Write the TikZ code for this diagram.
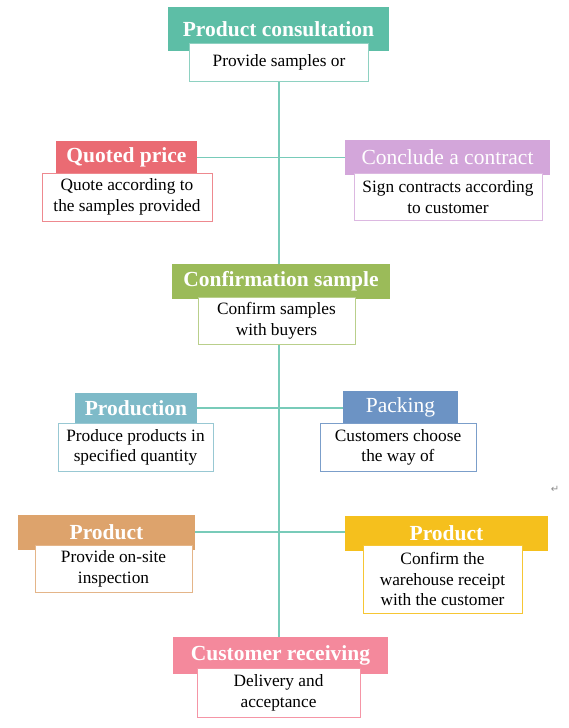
\documentclass[tikz,border=0pt]{standalone}
\usepackage{fontspec}
\setmainfont{Liberation Serif}
\newfontfamily\symfont{DejaVu Sans}
\usetikzlibrary{backgrounds}
\definecolor{cTeal}{HTML}{5DBEA6}
\definecolor{cQuote}{HTML}{EA6B73}
\definecolor{cLav}{HTML}{D3A6DA}
\definecolor{cGreen}{HTML}{9BBB59}
\definecolor{cProd}{HTML}{7EBAC8}
\definecolor{cPack}{HTML}{6C93C4}
\definecolor{cOrange}{HTML}{DDA36C}
\definecolor{cYellow}{HTML}{F5C01D}
\definecolor{cPink}{HTML}{F4899C}
\definecolor{cLine}{HTML}{78CBB9}
\begin{document}
\begin{tikzpicture}[x=1pt,y=-1pt,
  hdr/.style={inner sep=0pt, text=white, font=\fontsize{21.5}{24}\selectfont\bfseries},
  hdrreg/.style={inner sep=0pt, text=white, font=\fontsize{21.5}{24}\selectfont},
  bodybox/.style={draw, fill=white, inner sep=0pt, line width=0.9pt, align=center,
    font=\fontsize{17.3}{20.5}\selectfont, text=black},
  link/.style={draw=cLine, line width=1.25pt}]
\useasboundingbox (0,0) rectangle (568,728);

% Product consultation
\node[hdr, fill=cTeal, minimum width=221pt, minimum height=44pt] (ph) at (278.5,29) {Product consultation};
\node[bodybox, draw=cTeal!70, minimum width=179pt, minimum height=38pt] (pb) at (279,62) {Provide samples or};

% Quoted price
\node[hdr, fill=cQuote, minimum width=141pt, minimum height=34pt] (qh) at (126.5,157.5) {Quoted price};
\node[bodybox, draw=cQuote!80, minimum width=170pt, minimum height=48pt] (qb) at (127,197) {Quote according to\\the samples provided};

% Conclude a contract
\node[hdrreg, fill=cLav, minimum width=205pt, minimum height=35pt] (kh) at (447.5,157.5) {Conclude a contract};
\node[bodybox, draw=cLav!80, minimum width=188pt, minimum height=47pt] (kb) at (448,197) {Sign contracts according\\to customer};

% Confirmation sample
\node[hdr, fill=cGreen, minimum width=218pt, minimum height=35pt] (fh) at (281,281.5) {Confirmation sample};
\node[bodybox, draw=cGreen!70, minimum width=157pt, minimum height=47pt] (fb) at (276.5,321) {Confirm samples\\with buyers};

% Production
\node[hdr, fill=cProd, minimum width=122pt, minimum height=31pt] (rh) at (136,408) {Production};
\node[bodybox, draw=cProd!80, minimum width=155pt, minimum height=48pt] (rb) at (135.5,447.5) {Produce products in\\specified quantity};

% Packing
\node[hdrreg, fill=cPack, minimum width=115pt, minimum height=33pt] (ah) at (400.5,407) {Packing};
\node[bodybox, draw=cPack!90, minimum width=156pt, minimum height=48pt] (ab) at (398,447.5) {Customers choose\\the way of};

% Product (left)
\node[hdr, fill=cOrange, minimum width=177pt, minimum height=35pt] (lh) at (106.5,532) {Product};
\node[bodybox, draw=cOrange!80, minimum width=157pt, minimum height=47pt] (lb) at (113.5,569) {Provide on-site\\inspection};

% Product (right)
\node[hdr, fill=cYellow, minimum width=203pt, minimum height=35pt] (yh) at (446.5,533) {Product};
\node[bodybox, draw=cYellow!90, minimum width=159pt, minimum height=68pt] (yb) at (442.5,579) {Confirm the\\warehouse receipt\\with the customer};

% Customer receiving
\node[hdr, fill=cPink, minimum width=215pt, minimum height=37pt] (ch) at (280.5,655.5) {Customer receiving};
\node[bodybox, draw=cPink!90, minimum width=163pt, minimum height=49pt] (cb) at (278.5,693) {Delivery and\\acceptance};

% paragraph mark
\node[text=black!45, font=\symfont\fontsize{10}{12}\selectfont, inner sep=0pt] (pm) at (555,489) {↵};

\begin{scope}[on background layer]
  \fill[white] (0,0) rectangle (568,728);
  \draw[link] (pb.south) -- (pb.south |- ch.north);
  \draw[link] (qh.east) -- (qh.east -| kh.west);
  \draw[link] (rh.east) -- (rh.east -| ah.west);
  \draw[link] (lh.east) -- (lh.east -| yh.west);
\end{scope}
\end{tikzpicture}
\end{document}
